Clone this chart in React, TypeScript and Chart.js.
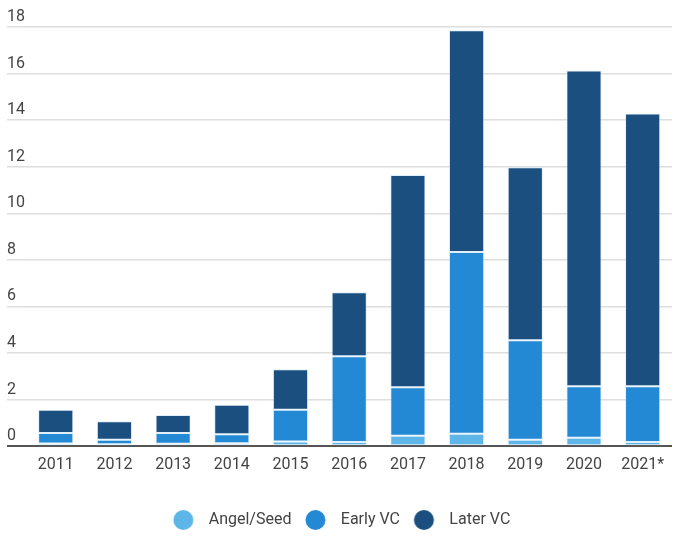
import React, { useEffect, useRef } from "react";
import { Chart, registerables } from "chart.js";

Chart.register(...registerables);

const categories = ["2011", "2012", "2013", "2014", "2015", "2016", "2017", "2018", "2019", "2020", "2021*"];
const angelSeed = [0.12, 0.08, 0.1, 0.13, 0.2, 0.18, 0.45, 0.53, 0.28, 0.36, 0.18];
const earlyVC = [0.45, 0.2, 0.47, 0.38, 1.37, 3.68, 2.08, 7.81, 4.27, 2.21, 2.39];
const laterVC = [1.0, 0.79, 0.77, 1.27, 1.73, 2.75, 9.12, 9.52, 7.43, 13.56, 11.72];
const seriesNames = ["Angel/Seed", "Early VC", "Later VC"];
const seriesColors = ["#5db5e8", "#2389d5", "#1a4f80"];
const yTicks = [0, 2, 4, 6, 8, 10, 12, 14, 16, 18];

function makeDot(color: string): HTMLCanvasElement {
  const c = document.createElement("canvas");
  c.width = 32;
  c.height = 20;
  const ctx = c.getContext("2d")!;
  ctx.fillStyle = color;
  ctx.beginPath();
  ctx.arc(14.6, 10, 10, 0, Math.PI * 2);
  ctx.fill();
  return c;
}

export default function App() {
  const ref = useRef<HTMLCanvasElement | null>(null);

  useEffect(() => {
    document.body.style.margin = "0";
    const canvas = ref.current;
    if (!canvas) return;
    const dots = seriesColors.map(makeDot);
    const values = [angelSeed, earlyVC, laterVC];
    const chart = new Chart(canvas, {
      type: "bar",
      data: {
        labels: categories,
        datasets: values.map((v, i) => ({
          label: seriesNames[i],
          data: v,
          backgroundColor: seriesColors[i],
          borderColor: "rgba(200,225,245,0.55)",
          borderWidth: 1,
          borderSkipped: false,
          categoryPercentage: 1,
          barPercentage: 0.6,
        })),
      },
      options: {
        animation: false,
        responsive: false,
        maintainAspectRatio: false,
        font: { family: "Roboto", size: 16 },
        layout: { padding: { left: 7, right: 20, top: 27, bottom: -2 } },
        plugins: {
          tooltip: { enabled: false },
          legend: {
            position: "bottom",
            labels: {
              usePointStyle: true,
              pointStyleWidth: 32,
              boxHeight: 16,
              padding: 9.4,
              color: "#444",
              font: { family: "Roboto", size: 16 },
              generateLabels: (ch: any) => {
                const items = Chart.defaults.plugins.legend.labels.generateLabels(ch);
                return items.map((it: any, i: number) => ({
                  ...it,
                  pointStyle: dots[i],
                  lineWidth: 0,
                  strokeStyle: "transparent",
                }));
              },
            },
          },
        },
        scales: {
          x: {
            stacked: true,
            grid: { display: false, drawTicks: false },
            border: { display: false },
            ticks: {
              color: "#444",
              padding: 9,
              font: { family: "Roboto", size: 16 },
            },
            afterFit: (s: any) => {
              s.height = 56.4;
            },
          },
          y: {
            stacked: true,
            min: 0,
            max: 18,
            afterBuildTicks: (s: any) => {
              s.ticks = yTicks.map((v) => ({ value: v }));
            },
            border: { display: false },
            grid: {
              color: (c: any) => (c.tick && c.tick.value === 0 ? "#555" : "#dedede"),
              lineWidth: (c: any) => (c.tick && c.tick.value === 0 ? 2 : 1.5),
              tickLength: 19.4,
              drawTicks: true,
            },
            ticks: {
              color: "#444",
              crossAlign: "far",
              labelOffset: -10,
              padding: 0,
              font: { family: "Roboto", size: 16 },
            },
            afterFit: (s: any) => {
              s.width = 19.4;
            },
          },
        },
      },
    });
    return () => chart.destroy();
  }, []);

  return (
    <div style={{ width: 692, height: 536 }}>
      <canvas ref={ref} width={692} height={536} style={{ display: "block", width: 692, height: 536 }} />
    </div>
  );
}
